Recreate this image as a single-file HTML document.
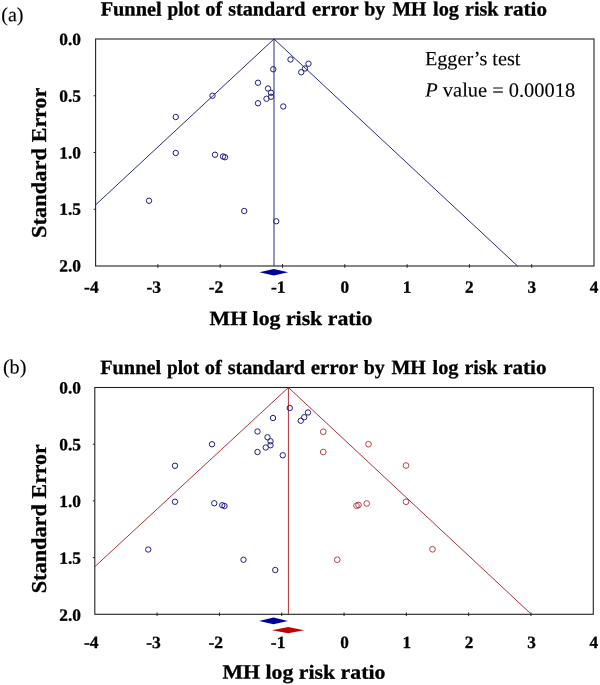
<!DOCTYPE html>
<html lang="en">
<head>
<meta charset="utf-8">
<title>Funnel plot of standard error by MH log risk ratio</title>
<style>
html,body{margin:0;padding:0;background:#fff;}
body{width:600px;height:685px;overflow:hidden;}
svg{display:block;}
text{font-family:"Liberation Serif","Times New Roman",Times,serif;fill:#000;stroke:#000;stroke-width:0.3px;stroke-linejoin:round;text-rendering:geometricPrecision;}
.tt{font-size:19.2px;font-weight:bold;}
.xl{font-size:20.1px;font-weight:bold;}
.yl{font-size:21.2px;font-weight:bold;}
.tk{font-size:17.2px;font-weight:bold;}
.tg{font-size:20.1px;stroke-width:0.12px;}
.an{font-size:20.2px;stroke-width:0.12px;}
</style>
</head>
<body>
<svg width="600" height="685" viewBox="0 0 600 685">
<rect x="0" y="0" width="600" height="685" fill="#ffffff"/>
<rect x="95.6" y="39" width="498.40" height="227.00" fill="none" stroke="#222" stroke-width="1.1"/>
<line x1="157.90" y1="264.20" x2="157.90" y2="267.80" stroke="#222" stroke-width="1"/>
<line x1="220.20" y1="264.20" x2="220.20" y2="267.80" stroke="#222" stroke-width="1"/>
<line x1="282.50" y1="264.20" x2="282.50" y2="267.80" stroke="#222" stroke-width="1"/>
<line x1="344.80" y1="264.20" x2="344.80" y2="267.80" stroke="#222" stroke-width="1"/>
<line x1="407.10" y1="264.20" x2="407.10" y2="267.80" stroke="#222" stroke-width="1"/>
<line x1="469.40" y1="264.20" x2="469.40" y2="267.80" stroke="#222" stroke-width="1"/>
<line x1="531.70" y1="264.20" x2="531.70" y2="267.80" stroke="#222" stroke-width="1"/>
<line x1="93.60" y1="95.75" x2="95.6" y2="95.75" stroke="#222" stroke-width="1"/>
<line x1="93.60" y1="152.50" x2="95.6" y2="152.50" stroke="#222" stroke-width="1"/>
<line x1="93.60" y1="209.25" x2="95.6" y2="209.25" stroke="#222" stroke-width="1"/>
<text transform="translate(59.20,44.90) rotate(0.03)" class="tk" textLength="21.70" lengthAdjust="spacingAndGlyphs">0.0</text>
<text transform="translate(59.20,101.65) rotate(0.03)" class="tk" textLength="21.70" lengthAdjust="spacingAndGlyphs">0.5</text>
<text transform="translate(59.20,158.40) rotate(0.03)" class="tk" textLength="21.70" lengthAdjust="spacingAndGlyphs">1.0</text>
<text transform="translate(59.20,214.85) rotate(0.03)" class="tk" textLength="21.70" lengthAdjust="spacingAndGlyphs">1.5</text>
<text transform="translate(59.20,271.40) rotate(0.03)" class="tk" textLength="21.70" lengthAdjust="spacingAndGlyphs">2.0</text>
<text transform="translate(84.10,292.70) rotate(0.03)" class="tk" textLength="14.60" lengthAdjust="spacingAndGlyphs">-4</text>
<text transform="translate(146.40,292.70) rotate(0.03)" class="tk" textLength="14.60" lengthAdjust="spacingAndGlyphs">-3</text>
<text transform="translate(208.70,292.70) rotate(0.03)" class="tk" textLength="14.60" lengthAdjust="spacingAndGlyphs">-2</text>
<text transform="translate(271.00,292.70) rotate(0.03)" class="tk" textLength="14.60" lengthAdjust="spacingAndGlyphs">-1</text>
<text transform="translate(344.80,292.70) rotate(0.03)" class="tk" text-anchor="middle">0</text>
<text transform="translate(407.10,292.70) rotate(0.03)" class="tk" text-anchor="middle">1</text>
<text transform="translate(469.40,292.70) rotate(0.03)" class="tk" text-anchor="middle">2</text>
<text transform="translate(531.70,292.70) rotate(0.03)" class="tk" text-anchor="middle">3</text>
<text transform="translate(594.00,292.70) rotate(0.03)" class="tk" text-anchor="middle">4</text>
<text transform="translate(0,15.6) rotate(0.03)" class="tt" style="font-size:20.1px"><tspan x="100.70" y="-0.05" textLength="60.90" lengthAdjust="spacingAndGlyphs">Funnel</tspan> <tspan x="167.40" y="-0.09" textLength="32.20" lengthAdjust="spacingAndGlyphs">plot</tspan> <tspan x="205.20" y="-0.11" textLength="17.10" lengthAdjust="spacingAndGlyphs">of</tspan> <tspan x="228.20" y="-0.12" textLength="77.40" lengthAdjust="spacingAndGlyphs">standard</tspan> <tspan x="312.10" y="-0.16" textLength="46.20" lengthAdjust="spacingAndGlyphs">error</tspan> <tspan x="364.30" y="-0.19" textLength="21.00" lengthAdjust="spacingAndGlyphs">by</tspan> <tspan x="392.40" y="-0.21" textLength="33.90" lengthAdjust="spacingAndGlyphs">MH</tspan> <tspan x="433.00" y="-0.23" textLength="26.00" lengthAdjust="spacingAndGlyphs">log</tspan> <tspan x="465.10" y="-0.24" textLength="33.40" lengthAdjust="spacingAndGlyphs">risk</tspan> <tspan x="503.70" y="-0.26" textLength="43.30" lengthAdjust="spacingAndGlyphs">ratio</tspan></text>
<text transform="translate(209.60,325.00) rotate(0.03)" class="xl" textLength="162.90" lengthAdjust="spacingAndGlyphs">MH log risk ratio</text>
<text transform="translate(1.20,21.30) rotate(0.03)" class="tg">(a)</text>
<text transform="translate(46.2,237.90) rotate(-90)" class="yl" textLength="89.90" lengthAdjust="spacingAndGlyphs">Standard</text>
<text transform="translate(46.2,142.20) rotate(-90)" class="yl" textLength="54.30" lengthAdjust="spacingAndGlyphs">Error</text>
<polyline points="95.6,204.9 274,39 517.5,266" fill="none" stroke="#1e1e80" stroke-width="0.95"/>
<line x1="274" y1="39" x2="274" y2="266" stroke="#1e1e80" stroke-width="0.95"/>
<circle cx="212.5" cy="95.75" r="2.7" fill="none" stroke="#1e1e80" stroke-width="1.0"/>
<circle cx="175.75" cy="117" r="2.7" fill="none" stroke="#1e1e80" stroke-width="1.0"/>
<circle cx="290.5" cy="59.5" r="2.7" fill="none" stroke="#1e1e80" stroke-width="1.0"/>
<circle cx="308.5" cy="63.75" r="2.7" fill="none" stroke="#1e1e80" stroke-width="1.0"/>
<circle cx="305" cy="68.5" r="2.7" fill="none" stroke="#1e1e80" stroke-width="1.0"/>
<circle cx="301.25" cy="72.25" r="2.7" fill="none" stroke="#1e1e80" stroke-width="1.0"/>
<circle cx="273.25" cy="69.25" r="2.7" fill="none" stroke="#1e1e80" stroke-width="1.0"/>
<circle cx="258" cy="82.75" r="2.7" fill="none" stroke="#1e1e80" stroke-width="1.0"/>
<circle cx="268" cy="88.5" r="2.7" fill="none" stroke="#1e1e80" stroke-width="1.0"/>
<circle cx="271" cy="92.75" r="2.7" fill="none" stroke="#1e1e80" stroke-width="1.0"/>
<circle cx="271" cy="96.75" r="2.7" fill="none" stroke="#1e1e80" stroke-width="1.0"/>
<circle cx="266.5" cy="98.75" r="2.7" fill="none" stroke="#1e1e80" stroke-width="1.0"/>
<circle cx="258" cy="103.25" r="2.7" fill="none" stroke="#1e1e80" stroke-width="1.0"/>
<circle cx="283.25" cy="106.5" r="2.7" fill="none" stroke="#1e1e80" stroke-width="1.0"/>
<circle cx="175.75" cy="153" r="2.7" fill="none" stroke="#1e1e80" stroke-width="1.0"/>
<circle cx="215" cy="154.75" r="2.7" fill="none" stroke="#1e1e80" stroke-width="1.0"/>
<circle cx="223" cy="156.5" r="2.7" fill="none" stroke="#1e1e80" stroke-width="1.0"/>
<circle cx="225" cy="157.25" r="2.7" fill="none" stroke="#1e1e80" stroke-width="1.0"/>
<circle cx="149" cy="200.75" r="2.7" fill="none" stroke="#1e1e80" stroke-width="1.0"/>
<circle cx="244.25" cy="211" r="2.7" fill="none" stroke="#1e1e80" stroke-width="1.0"/>
<circle cx="276.25" cy="221.25" r="2.7" fill="none" stroke="#1e1e80" stroke-width="1.0"/>
<polygon points="259.40000000000003,272.3 273.8,269.0 288.2,272.3 273.8,275.6" fill="#00009a"/>
<text transform="translate(424.90,65.20) rotate(0.03)" class="an">Egger’s test</text>
<text transform="translate(425.30,96.60) rotate(0.03)" class="an" textLength="149.80" lengthAdjust="spacingAndGlyphs"><tspan font-style="italic">P</tspan> value = 0.00018</text>
<rect x="94.8" y="387.5" width="498.50" height="226.80" fill="none" stroke="#222" stroke-width="1.1"/>
<line x1="157.11" y1="612.50" x2="157.11" y2="616.10" stroke="#222" stroke-width="1"/>
<line x1="219.42" y1="612.50" x2="219.42" y2="616.10" stroke="#222" stroke-width="1"/>
<line x1="281.74" y1="612.50" x2="281.74" y2="616.10" stroke="#222" stroke-width="1"/>
<line x1="344.05" y1="612.50" x2="344.05" y2="616.10" stroke="#222" stroke-width="1"/>
<line x1="406.36" y1="612.50" x2="406.36" y2="616.10" stroke="#222" stroke-width="1"/>
<line x1="468.67" y1="612.50" x2="468.67" y2="616.10" stroke="#222" stroke-width="1"/>
<line x1="530.99" y1="612.50" x2="530.99" y2="616.10" stroke="#222" stroke-width="1"/>
<line x1="92.80" y1="444.20" x2="94.8" y2="444.20" stroke="#222" stroke-width="1"/>
<line x1="92.80" y1="500.90" x2="94.8" y2="500.90" stroke="#222" stroke-width="1"/>
<line x1="92.80" y1="557.60" x2="94.8" y2="557.60" stroke="#222" stroke-width="1"/>
<text transform="translate(59.20,393.50) rotate(0.03)" class="tk" textLength="21.70" lengthAdjust="spacingAndGlyphs">0.0</text>
<text transform="translate(59.20,450.20) rotate(0.03)" class="tk" textLength="21.70" lengthAdjust="spacingAndGlyphs">0.5</text>
<text transform="translate(59.20,506.90) rotate(0.03)" class="tk" textLength="21.70" lengthAdjust="spacingAndGlyphs">1.0</text>
<text transform="translate(59.20,563.80) rotate(0.03)" class="tk" textLength="21.70" lengthAdjust="spacingAndGlyphs">1.5</text>
<text transform="translate(59.20,620.70) rotate(0.03)" class="tk" textLength="21.70" lengthAdjust="spacingAndGlyphs">2.0</text>
<text transform="translate(83.90,648.00) rotate(0.03)" class="tk" textLength="14.60" lengthAdjust="spacingAndGlyphs">-4</text>
<text transform="translate(146.21,648.00) rotate(0.03)" class="tk" textLength="14.60" lengthAdjust="spacingAndGlyphs">-3</text>
<text transform="translate(208.52,648.00) rotate(0.03)" class="tk" textLength="14.60" lengthAdjust="spacingAndGlyphs">-2</text>
<text transform="translate(270.84,648.00) rotate(0.03)" class="tk" textLength="14.60" lengthAdjust="spacingAndGlyphs">-1</text>
<text transform="translate(344.55,648.00) rotate(0.03)" class="tk" text-anchor="middle">0</text>
<text transform="translate(406.86,648.00) rotate(0.03)" class="tk" text-anchor="middle">1</text>
<text transform="translate(469.17,648.00) rotate(0.03)" class="tk" text-anchor="middle">2</text>
<text transform="translate(531.49,648.00) rotate(0.03)" class="tk" text-anchor="middle">3</text>
<text transform="translate(593.80,648.00) rotate(0.03)" class="tk" text-anchor="middle">4</text>
<text transform="translate(0,373.9) rotate(0.03)" class="tt" style="font-size:20.1px"><tspan x="100.20" y="-0.05" textLength="60.90" lengthAdjust="spacingAndGlyphs">Funnel</tspan> <tspan x="166.90" y="-0.09" textLength="32.20" lengthAdjust="spacingAndGlyphs">plot</tspan> <tspan x="204.70" y="-0.11" textLength="17.10" lengthAdjust="spacingAndGlyphs">of</tspan> <tspan x="227.70" y="-0.12" textLength="77.40" lengthAdjust="spacingAndGlyphs">standard</tspan> <tspan x="310.70" y="-0.16" textLength="46.90" lengthAdjust="spacingAndGlyphs">error</tspan> <tspan x="363.80" y="-0.19" textLength="21.00" lengthAdjust="spacingAndGlyphs">by</tspan> <tspan x="391.40" y="-0.20" textLength="34.40" lengthAdjust="spacingAndGlyphs">MH</tspan> <tspan x="432.50" y="-0.23" textLength="26.00" lengthAdjust="spacingAndGlyphs">log</tspan> <tspan x="464.60" y="-0.24" textLength="32.90" lengthAdjust="spacingAndGlyphs">risk</tspan> <tspan x="503.20" y="-0.26" textLength="43.30" lengthAdjust="spacingAndGlyphs">ratio</tspan></text>
<text transform="translate(222.50,678.60) rotate(0.03)" class="xl" textLength="162.90" lengthAdjust="spacingAndGlyphs">MH log risk ratio</text>
<text transform="translate(2.90,373.60) rotate(0.03)" class="tg">(b)</text>
<text transform="translate(46.2,593.30) rotate(-90)" class="yl" textLength="89.10" lengthAdjust="spacingAndGlyphs">Standard</text>
<text transform="translate(46.2,498.40) rotate(-90)" class="yl" textLength="54.10" lengthAdjust="spacingAndGlyphs">Error</text>
<polyline points="94.8,566.7 288.4,387.5 531.4,614.3" fill="none" stroke="#a8242e" stroke-width="0.95"/>
<line x1="288.4" y1="387.5" x2="288.4" y2="614.3" stroke="#a8242e" stroke-width="0.95"/>
<circle cx="212" cy="444.25" r="2.7" fill="none" stroke="#1e1e80" stroke-width="1.0"/>
<circle cx="175" cy="465.75" r="2.7" fill="none" stroke="#1e1e80" stroke-width="1.0"/>
<circle cx="289.75" cy="408" r="2.7" fill="none" stroke="#1e1e80" stroke-width="1.0"/>
<circle cx="308" cy="412.5" r="2.7" fill="none" stroke="#1e1e80" stroke-width="1.0"/>
<circle cx="304.25" cy="417.25" r="2.7" fill="none" stroke="#1e1e80" stroke-width="1.0"/>
<circle cx="300.75" cy="420.75" r="2.7" fill="none" stroke="#1e1e80" stroke-width="1.0"/>
<circle cx="273" cy="418" r="2.7" fill="none" stroke="#1e1e80" stroke-width="1.0"/>
<circle cx="257.5" cy="431.5" r="2.7" fill="none" stroke="#1e1e80" stroke-width="1.0"/>
<circle cx="267.5" cy="437.25" r="2.7" fill="none" stroke="#1e1e80" stroke-width="1.0"/>
<circle cx="270.5" cy="441.25" r="2.7" fill="none" stroke="#1e1e80" stroke-width="1.0"/>
<circle cx="270.5" cy="445.25" r="2.7" fill="none" stroke="#1e1e80" stroke-width="1.0"/>
<circle cx="265.75" cy="447.5" r="2.7" fill="none" stroke="#1e1e80" stroke-width="1.0"/>
<circle cx="257.5" cy="452" r="2.7" fill="none" stroke="#1e1e80" stroke-width="1.0"/>
<circle cx="282.75" cy="455.25" r="2.7" fill="none" stroke="#1e1e80" stroke-width="1.0"/>
<circle cx="175" cy="501.75" r="2.7" fill="none" stroke="#1e1e80" stroke-width="1.0"/>
<circle cx="214.25" cy="503.25" r="2.7" fill="none" stroke="#1e1e80" stroke-width="1.0"/>
<circle cx="222.25" cy="505.25" r="2.7" fill="none" stroke="#1e1e80" stroke-width="1.0"/>
<circle cx="224.5" cy="506" r="2.7" fill="none" stroke="#1e1e80" stroke-width="1.0"/>
<circle cx="148.25" cy="549.5" r="2.7" fill="none" stroke="#1e1e80" stroke-width="1.0"/>
<circle cx="243.5" cy="559.75" r="2.7" fill="none" stroke="#1e1e80" stroke-width="1.0"/>
<circle cx="275.25" cy="570" r="2.7" fill="none" stroke="#1e1e80" stroke-width="1.0"/>
<circle cx="323.25" cy="431.75" r="2.85" fill="none" stroke="#b02c34" stroke-width="0.9"/>
<circle cx="323.25" cy="452" r="2.85" fill="none" stroke="#b02c34" stroke-width="0.9"/>
<circle cx="368.5" cy="444.25" r="2.85" fill="none" stroke="#b02c34" stroke-width="0.9"/>
<circle cx="406" cy="465.5" r="2.85" fill="none" stroke="#b02c34" stroke-width="0.9"/>
<circle cx="356.5" cy="505.75" r="2.85" fill="none" stroke="#b02c34" stroke-width="0.9"/>
<circle cx="358.5" cy="505" r="2.85" fill="none" stroke="#b02c34" stroke-width="0.9"/>
<circle cx="366.75" cy="503.5" r="2.85" fill="none" stroke="#b02c34" stroke-width="0.9"/>
<circle cx="406" cy="501.75" r="2.85" fill="none" stroke="#b02c34" stroke-width="0.9"/>
<circle cx="432.5" cy="549.25" r="2.85" fill="none" stroke="#b02c34" stroke-width="0.9"/>
<circle cx="337.25" cy="559.75" r="2.85" fill="none" stroke="#b02c34" stroke-width="0.9"/>
<polygon points="259.1,620.9 273.5,617.6 287.9,620.9 273.5,624.1999999999999" fill="#00009a"/>
<polygon points="272.0,630.2 288.1,627.1 304.20000000000005,630.2 288.1,633.3000000000001" fill="#c40000"/>
</svg>
</body>
</html>
